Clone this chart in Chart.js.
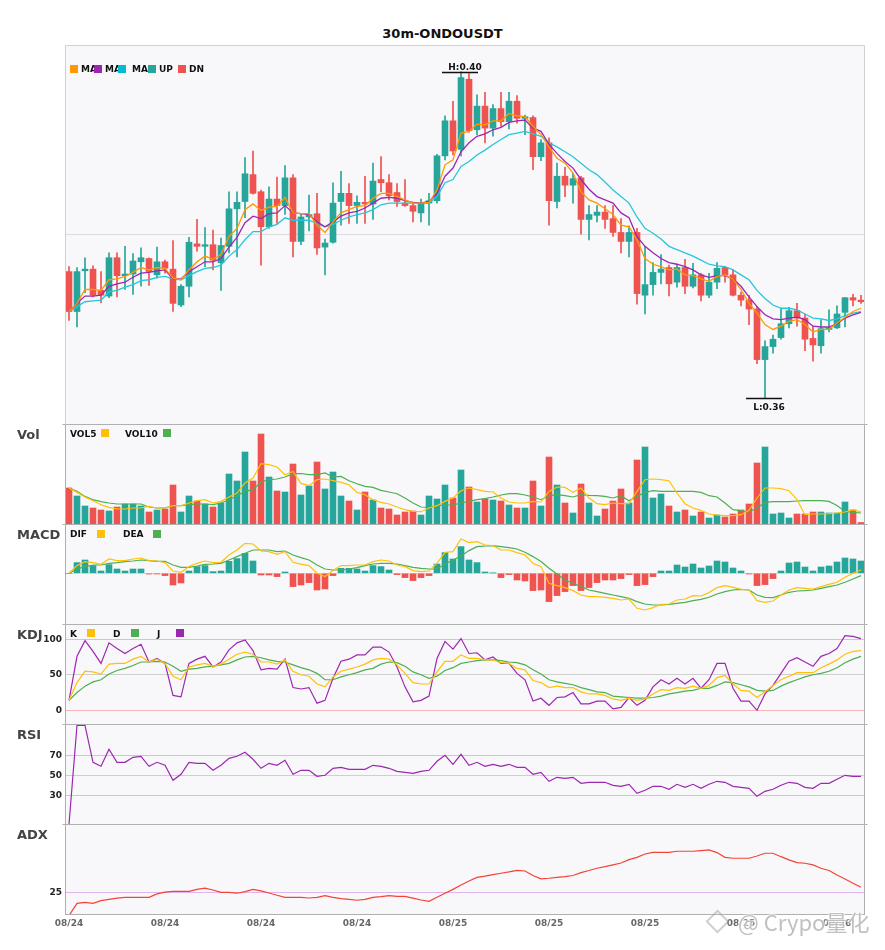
<!DOCTYPE html>
<html>
<head>
<meta charset="utf-8">
<title>30m-ONDOUSDT</title>
<script src="https://cdn.jsdelivr.net/npm/chart.js@4.4.1/dist/chart.umd.min.js"></script>
<style>
  body { margin: 0; background: #fff; font-family: "DejaVu Sans", sans-serif; }
  #wrap { position: relative; width: 885px; height: 950px; overflow: hidden; }
  #wrap canvas { position: absolute; left: 0; }
  .title { position: absolute; top: 27px; left: 0; width: 885px; text-align: center; font: bold 13px/14px "DejaVu Sans"; color: #111; }
  .pane { position: absolute; left: 17px; font: bold 13px/14px "DejaVu Sans"; color: #444; }
  .lg { position: absolute; font: bold 9px/10px "DejaVu Sans"; color: #111; white-space: nowrap; }
  .sq { position: absolute; width: 8px; height: 8px; }
  .wm { position: absolute; left: 738px; top: 908px; font: 22px/26px "Noto Sans CJK SC", sans-serif; color: rgba(150,150,150,0.6); white-space: nowrap;
        text-shadow: 0 0 2px #fff, 0 0 2px #fff, 0 0 3px #fff; }
  .logo { position: absolute; left: 709px; top: 913px; width: 13px; height: 13px; border: 2px solid rgba(160,160,160,0.5); transform: rotate(45deg);
          box-shadow: 0 0 2px #fff; }
</style>
</head>
<body>
<div id="wrap">
  <div class="title">30m-ONDOUSDT</div>

  <canvas id="cPrice" width="885" height="379" style="top:45px"></canvas>
  <canvas id="cVol" width="885" height="100" style="top:424px"></canvas>
  <canvas id="cMacd" width="885" height="100" style="top:524px"></canvas>
  <canvas id="cKdj" width="885" height="100" style="top:624px"></canvas>
  <canvas id="cRsi" width="885" height="100" style="top:724px"></canvas>
  <canvas id="cAdx" width="885" height="111" style="top:824px"></canvas>

  <div class="pane" style="top:428px">Vol</div>
  <div class="pane" style="top:528px">MACD</div>
  <div class="pane" style="top:628px">KDJ</div>
  <div class="pane" style="top:728px">RSI</div>
  <div class="pane" style="top:828px">ADX</div>

  <!-- price legend (labels overlap like the original) -->
  <div class="lg" style="left:81px;top:64px">MA</div>
  <div class="lg" style="left:105px;top:64px">MA</div>
  <div class="lg" style="left:132px;top:64px">MA</div>
  <div class="lg" style="left:159px;top:64px">UP</div>
  <div class="lg" style="left:189px;top:64px">DN</div>
  <div class="sq" style="left:70px;top:65px;background:#ff9800"></div>
  <div class="sq" style="left:94px;top:65px;background:#9c27b0"></div>
  <div class="sq" style="left:118px;top:65px;background:#00bcd4"></div>
  <div class="sq" style="left:148px;top:65px;background:#26a69a"></div>
  <div class="sq" style="left:178px;top:65px;background:#ef5350"></div>

  <div class="lg" style="left:70px;top:429px">VOL5</div>
  <div class="sq" style="left:101px;top:429px;background:#ffc107"></div>
  <div class="lg" style="left:125px;top:429px">VOL10</div>
  <div class="sq" style="left:163px;top:429px;background:#4caf50"></div>

  <div class="lg" style="left:70px;top:529px">DIF</div>
  <div class="sq" style="left:97px;top:530px;background:#ffc107"></div>
  <div class="lg" style="left:123px;top:529px">DEA</div>
  <div class="sq" style="left:153px;top:530px;background:#4caf50"></div>

  <div class="lg" style="left:70px;top:629px">K</div>
  <div class="sq" style="left:87px;top:629px;background:#ffc107"></div>
  <div class="lg" style="left:113px;top:629px">D</div>
  <div class="sq" style="left:131px;top:629px;background:#4caf50"></div>
  <div class="lg" style="left:157px;top:629px">J</div>
  <div class="sq" style="left:176px;top:629px;background:#9c27b0"></div>

  <div class="logo"></div>
  <div class="wm">@ Crypo量化</div>
</div>

<script>
// --- data ---
const xTickLabels = ['08/24', '08/24', '08/24', '08/24', '08/25', '08/25', '08/25', '08/25', '08/26'];
const TICK_STEP = 12;

const opens = [
  0.3755, 0.3706, 0.3756, 0.3758, 0.3732, 0.3725, 0.3772, 0.3750, 0.3752, 0.3767,
  0.3771, 0.3751, 0.3767, 0.3758, 0.3714, 0.3737, 0.3789, 0.3786, 0.3788, 0.3766,
  0.3786, 0.3832, 0.3841, 0.3874, 0.3853, 0.3810, 0.3844, 0.3836, 0.3870, 0.3792,
  0.3822, 0.3826, 0.3785, 0.3791, 0.3841, 0.3851, 0.3836, 0.3840, 0.3838, 0.3868,
  0.3864, 0.3852, 0.3839, 0.3836, 0.3827, 0.3839, 0.3842, 0.3897, 0.3940, 0.3905,
  0.3991, 0.3929, 0.3958, 0.3931, 0.3955, 0.3939, 0.3964, 0.3943, 0.3944, 0.3896,
  0.3913, 0.3841, 0.3872, 0.3861, 0.3870, 0.3819, 0.3824, 0.3828, 0.3820, 0.3803,
  0.3792, 0.3803, 0.3726, 0.3739, 0.3754, 0.3760, 0.3742, 0.3760, 0.3737, 0.3751,
  0.3726, 0.3742, 0.3760, 0.3751, 0.3726, 0.3720, 0.3709, 0.3647, 0.3663, 0.3674,
  0.3691, 0.3707, 0.3698, 0.3673, 0.3664, 0.3684, 0.3686, 0.3705, 0.3723, 0.3720
];
const highs = [
  0.3761, 0.3760, 0.3772, 0.3762, 0.3755, 0.3778, 0.3778, 0.3786, 0.3777, 0.3784,
  0.3772, 0.3785, 0.3769, 0.3793, 0.3739, 0.3797, 0.3819, 0.3809, 0.3806, 0.3796,
  0.3853, 0.3853, 0.3895, 0.3903, 0.3855, 0.3859, 0.3871, 0.3885, 0.3874, 0.3826,
  0.3849, 0.3851, 0.3795, 0.3864, 0.3878, 0.3863, 0.3848, 0.3872, 0.3888, 0.3896,
  0.3874, 0.3863, 0.3868, 0.3840, 0.3844, 0.3851, 0.3899, 0.3946, 0.3964, 0.4000,
  0.3998, 0.3972, 0.3975, 0.3960, 0.3975, 0.3975, 0.3971, 0.3947, 0.3946, 0.3917,
  0.3919, 0.3888, 0.3883, 0.3876, 0.3872, 0.3836, 0.3836, 0.3836, 0.3836, 0.3820,
  0.3811, 0.3808, 0.3786, 0.3766, 0.3776, 0.3763, 0.3764, 0.3770, 0.3765, 0.3753,
  0.3753, 0.3766, 0.3761, 0.3757, 0.3730, 0.3726, 0.3712, 0.3670, 0.3677, 0.3710,
  0.3711, 0.3716, 0.3703, 0.3688, 0.3696, 0.3708, 0.3713, 0.3723, 0.3727, 0.3726
];
const lows = [
  0.3695, 0.3687, 0.3729, 0.3724, 0.3717, 0.3723, 0.3724, 0.3733, 0.3727, 0.3737,
  0.3738, 0.3747, 0.3753, 0.3706, 0.3712, 0.3724, 0.3780, 0.3761, 0.3757, 0.3732,
  0.3778, 0.3773, 0.3821, 0.3850, 0.3763, 0.3808, 0.3814, 0.3825, 0.3773, 0.3788,
  0.3805, 0.3776, 0.3751, 0.3790, 0.3812, 0.3814, 0.3814, 0.3814, 0.3819, 0.3853,
  0.3843, 0.3835, 0.3835, 0.3816, 0.3816, 0.3812, 0.3839, 0.3892, 0.3898, 0.3897,
  0.3926, 0.3923, 0.3913, 0.3921, 0.3933, 0.3930, 0.3937, 0.3923, 0.3880, 0.3891,
  0.3812, 0.3833, 0.3847, 0.3839, 0.3801, 0.3794, 0.3816, 0.3808, 0.3798, 0.3778,
  0.3773, 0.3715, 0.3703, 0.3726, 0.3740, 0.3725, 0.3736, 0.3728, 0.3735, 0.3719,
  0.3723, 0.3734, 0.3742, 0.3725, 0.3713, 0.3690, 0.3642, 0.3600, 0.3655, 0.3672,
  0.3686, 0.3688, 0.3658, 0.3645, 0.3655, 0.3681, 0.3685, 0.3687, 0.3713, 0.3716
];
const closes = [
  0.3706, 0.3755, 0.3758, 0.3726, 0.3726, 0.3772, 0.3750, 0.3752, 0.3768, 0.3772,
  0.3755, 0.3767, 0.3759, 0.3716, 0.3737, 0.3791, 0.3786, 0.3788, 0.3769, 0.3787,
  0.3832, 0.3840, 0.3875, 0.3851, 0.3810, 0.3844, 0.3836, 0.3870, 0.3792, 0.3822,
  0.3825, 0.3784, 0.3790, 0.3839, 0.3851, 0.3836, 0.3840, 0.3838, 0.3866, 0.3864,
  0.3848, 0.3841, 0.3836, 0.3829, 0.3839, 0.3842, 0.3897, 0.3940, 0.3903, 0.3993,
  0.3928, 0.3958, 0.3931, 0.3955, 0.3939, 0.3964, 0.3943, 0.3945, 0.3896, 0.3913,
  0.3842, 0.3872, 0.3861, 0.3869, 0.3819, 0.3825, 0.3828, 0.3819, 0.3803, 0.3792,
  0.3803, 0.3728, 0.3739, 0.3754, 0.3758, 0.3740, 0.3760, 0.3737, 0.3751, 0.3726,
  0.3742, 0.3759, 0.3751, 0.3726, 0.3720, 0.3709, 0.3647, 0.3663, 0.3672, 0.3691,
  0.3707, 0.3698, 0.3672, 0.3665, 0.3685, 0.3686, 0.3703, 0.3723, 0.3720, 0.3718
];

const ma5 = [
  0.3706, 0.3716, 0.3733, 0.3733, 0.3732, 0.3745, 0.3746, 0.3749, 0.3754, 0.3760,
  0.3757, 0.3760, 0.3759, 0.3747, 0.3745, 0.3757, 0.3767, 0.3774, 0.3770, 0.3776,
  0.3798, 0.3808, 0.3831, 0.3838, 0.3830, 0.3834, 0.3835, 0.3846, 0.3827, 0.3826,
  0.3826, 0.3812, 0.3803, 0.3816, 0.3827, 0.3831, 0.3835, 0.3836, 0.3845, 0.3851,
  0.3851, 0.3847, 0.3843, 0.3839, 0.3839, 0.3840, 0.3855, 0.3886, 0.3892, 0.3925,
  0.3927, 0.3936, 0.3935, 0.3940, 0.3940, 0.3949, 0.3946, 0.3945, 0.3933, 0.3923,
  0.3908, 0.3894, 0.3888, 0.3876, 0.3853, 0.3843, 0.3839, 0.3832, 0.3825, 0.3812,
  0.3810, 0.3794, 0.3771, 0.3764, 0.3761, 0.3757, 0.3758, 0.3751, 0.3750, 0.3746,
  0.3743, 0.3749, 0.3751, 0.3746, 0.3733, 0.3716, 0.3704, 0.3690, 0.3684, 0.3688,
  0.3694, 0.3696, 0.3690, 0.3681, 0.3684, 0.3684, 0.3692, 0.3699, 0.3706, 0.3710
];
const ma10 = [
  0.3706, 0.3716, 0.3725, 0.3725, 0.3726, 0.3737, 0.3740, 0.3742, 0.3748, 0.3753,
  0.3754, 0.3756, 0.3757, 0.3746, 0.3746, 0.3755, 0.3761, 0.3767, 0.3767, 0.3771,
  0.3785, 0.3797, 0.3815, 0.3823, 0.3820, 0.3826, 0.3827, 0.3836, 0.3827, 0.3826,
  0.3825, 0.3816, 0.3810, 0.3816, 0.3823, 0.3827, 0.3829, 0.3833, 0.3839, 0.3845,
  0.3846, 0.3845, 0.3842, 0.3840, 0.3839, 0.3841, 0.3851, 0.3872, 0.3882, 0.3902,
  0.3913, 0.3921, 0.3924, 0.3929, 0.3932, 0.3938, 0.3940, 0.3941, 0.3931, 0.3927,
  0.3911, 0.3900, 0.3890, 0.3882, 0.3868, 0.3856, 0.3847, 0.3843, 0.3839, 0.3827,
  0.3821, 0.3798, 0.3786, 0.3778, 0.3771, 0.3766, 0.3764, 0.3761, 0.3757, 0.3751,
  0.3748, 0.3750, 0.3750, 0.3746, 0.3737, 0.3724, 0.3712, 0.3702, 0.3697, 0.3696,
  0.3698, 0.3699, 0.3696, 0.3688, 0.3687, 0.3687, 0.3691, 0.3698, 0.3702, 0.3705
];
const ma20 = [
  0.3706, 0.3712, 0.3718, 0.3719, 0.3720, 0.3730, 0.3732, 0.3736, 0.3739, 0.3744,
  0.3745, 0.3748, 0.3749, 0.3746, 0.3745, 0.3750, 0.3755, 0.3759, 0.3760, 0.3763,
  0.3774, 0.3782, 0.3794, 0.3804, 0.3804, 0.3810, 0.3813, 0.3821, 0.3818, 0.3818,
  0.3818, 0.3814, 0.3810, 0.3813, 0.3818, 0.3822, 0.3825, 0.3827, 0.3831, 0.3837,
  0.3839, 0.3839, 0.3839, 0.3839, 0.3839, 0.3839, 0.3847, 0.3864, 0.3868, 0.3884,
  0.3890, 0.3898, 0.3904, 0.3911, 0.3917, 0.3923, 0.3925, 0.3927, 0.3924, 0.3921,
  0.3913, 0.3908, 0.3902, 0.3896, 0.3888, 0.3880, 0.3874, 0.3865, 0.3855, 0.3847,
  0.3839, 0.3822, 0.3808, 0.3802, 0.3795, 0.3786, 0.3782, 0.3778, 0.3774, 0.3769,
  0.3764, 0.3762, 0.3761, 0.3757, 0.3751, 0.3745, 0.3732, 0.3722, 0.3714, 0.3710,
  0.3710, 0.3708, 0.3703, 0.3698, 0.3697, 0.3695, 0.3697, 0.3701, 0.3704, 0.3706
];

const volumes = [
  36, 28, 18, 16, 14, 13, 17, 20, 20, 18,
  12, 14, 15, 39, 12, 28, 23, 20, 17, 21,
  50, 43, 72, 43, 90, 47, 33, 32, 60, 29,
  38, 62, 35, 52, 28, 23, 14, 32, 24, 16,
  15, 9, 12, 13, 9, 28, 25, 39, 26, 54,
  37, 22, 25, 24, 23, 19, 16, 16, 43, 18,
  67, 39, 21, 11, 40, 21, 8, 15, 23, 35,
  21, 64, 77, 26, 30, 18, 12, 14, 8, 12,
  6, 9, 7, 10, 14, 20, 61, 77, 10, 11,
  6, 10, 10, 12, 12, 11, 11, 22, 14, 1.5
];
const vol5 = [
  36, 31.6, 27, 23.3, 19.3, 16.6, 15, 15, 16, 16,
  17.6, 16, 16, 18.3, 18.3, 21, 23.3, 24.3, 21, 22.6,
  27, 31, 41, 46, 60.3, 59.3, 57, 49.3, 52.6, 40.6,
  38.3, 44.3, 45, 43.3, 41.6, 39.3, 31.6, 29.3, 24.3, 21.6,
  20, 17, 14.3, 12.6, 12.3, 16, 18.3, 22.6, 26, 33.3,
  36, 34.3, 32.6, 32, 26, 22, 21, 21, 22.6, 22,
  32.6, 37, 36.6, 31.6, 36, 26, 20.3, 19.3, 21, 20.3,
  20.3, 32.6, 44.3, 45, 44.3, 43.3, 31, 20.3, 16, 13.6,
  10, 9, 8.3, 8.3, 9.3, 13.6, 26, 36, 36, 35.3,
  33.3, 24.3, 9.3, 10, 10, 10.3, 11, 12, 14.3, 12
];
const vol10 = [
  36, 32.6, 27.6, 24.3, 22.3, 21, 20, 20, 20, 20,
  17, 16, 16, 18.3, 18.3, 19.3, 20, 20, 19.3, 21,
  24.3, 28.3, 32.6, 34.3, 42, 44.3, 45, 47, 50.3, 50.5,
  49.3, 49.3, 51, 47, 47.6, 43.3, 40.3, 37.6, 36.6, 33.6,
  32, 30.3, 26, 21, 17, 16.6, 18.3, 19, 19, 21,
  22.6, 24.3, 25.3, 27, 29, 30.3, 30.3, 29, 27, 24.3,
  28.3, 29.3, 28.3, 27, 29.3, 28.6, 28.3, 27.6, 26, 28.3,
  23.3, 27.6, 31.6, 33.3, 32.6, 32.6, 32.6, 32.6, 32.6, 31.6,
  28.3, 27, 21, 14.3, 13.3, 12, 16, 21.6, 22.3, 22.3,
  22.3, 23, 23.3, 23.3, 23.3, 22.6, 18.6, 12.6, 11.6, 11
];

const macdHist = [
  0, 10.7, 13.3, 7.7, 2.3, 8.7, 4.3, 2.3, 4.3, 4.3,
  -0.7, -0.7, -2.3, -11.7, -9.7, 2.3, 6.7, 7.7, 1.7, 2.3,
  12, 14.7, 20, 12.3, -1.7, -1.7, -3.3, 1.3, -13.3, -11.7,
  -9.3, -16.7, -15.7, -2.3, 5, 5, 4.3, 2.3, 7.7, 6.7,
  3.3, -1.3, -4.3, -7.3, -4.3, -2.3, 9.3, 20.7, 14.3, 26.7,
  13.3, 10.7, 1.3, 0.3, -4.3, -1.3, -6.7, -7.7, -17.3, -16.7,
  -28.3, -22.3, -18.3, -12.3, -17.3, -14.3, -9.3, -6.7, -6.7, -5.3,
  -1.3, -12.3, -11.3, -3.3, 2.3, 2.3, 8.3, 6.3, 9.3, 5.3,
  7.3, 12.3, 11.3, 5.3, 2.3, -0.7, -12.3, -11.3, -5.3, 2.3,
  10.3, 11.3, 6.3, 2.3, 6.3, 7.3, 11.3, 15.3, 14.3, 12.3
];
const dif = [
  0, 7.7, 11.7, 10.7, 9, 14.3, 12.7, 12.7, 14.3, 15.3,
  12.7, 12.3, 10.7, 2.3, 1, 6.7, 10, 12.3, 10.7, 11,
  18.3, 23.3, 30, 29.3, 22.3, 21.7, 19, 21.7, 11, 9.2,
  7.7, 0, -3.3, 2.7, 7.7, 7.7, 8.3, 8.3, 11.7, 13.3,
  12.3, 8.3, 6.7, 2.7, 1.7, 2.3, 10, 21, 21.7, 34.3,
  30.7, 31.7, 28.3, 27.7, 23.3, 23.3, 20.7, 18.3, 10, 6.7,
  -10, -12.3, -14.3, -17.3, -21.7, -23.3, -23.3, -24, -25, -26.7,
  -25.7, -35, -36.7, -34.3, -31, -30.7, -26.7, -25.7, -22.3, -22.7,
  -19.3, -14.3, -12.3, -14, -16, -16.7, -27.3, -29, -27.7, -21.7,
  -16.7, -14.3, -15, -15.7, -13.3, -11, -9, -4, 0, 3.3
];
const dea = [
  0, 4.3, 6.7, 8.3, 8.3, 10, 10.7, 11.7, 12.3, 13.3,
  12.7, 12, 12, 8.3, 6, 6, 7.3, 9, 9.3, 10,
  13.3, 16.7, 20, 23.3, 23.3, 23.3, 21.7, 22.3, 18.3, 15.7,
  13.3, 8.3, 4.3, 3.3, 3.3, 4.3, 5.7, 7.7, 9.3, 10,
  10, 9.3, 7.7, 6, 5, 4.3, 4.3, 9.3, 13.3, 17.3,
  22.7, 26.7, 27.3, 27.7, 26.7, 25.7, 24.3, 21, 16.7, 11.7,
  5, -0.7, -6.7, -10, -13.3, -16.7, -18.3, -20, -21.7, -23.3,
  -25, -28.3, -30.7, -31.7, -31.7, -31, -30, -29, -27.3, -26,
  -24, -20.7, -18.3, -16.7, -16, -16.7, -21.7, -24, -24.3, -21.7,
  -19, -17.7, -17.3, -16.7, -15, -13.3, -11.7, -9, -5.7, -2.3
];

const kLine = [
  14, 39, 55, 54, 51, 65, 66, 66, 72, 76,
  68, 72, 66, 48, 43, 61, 64, 66, 62, 65,
  72, 79, 82, 79, 68, 68, 65, 71, 55, 50,
  48, 37, 33, 47, 55, 58, 61, 65, 71, 73,
  72, 64, 52, 39, 37, 37, 54, 69, 69, 78,
  73, 73, 71, 71, 67, 66, 59, 57, 42, 39,
  32, 34, 32, 32, 26, 23, 23, 21, 16, 14,
  17, 14, 16, 23, 29, 28, 32, 31, 34, 31,
  35, 46, 49, 37, 28, 27, 18, 26, 35, 43,
  48, 53, 53, 53, 60, 65, 71, 79, 83, 84
];
const dLine = [
  14, 25, 34, 40, 43, 51, 56, 59, 63, 68,
  68, 69, 68, 62, 55, 58, 59, 61, 62, 64,
  66, 71, 75, 76, 74, 71, 69, 68, 64, 60,
  57, 52, 43, 43, 47, 50, 53, 57, 59, 65,
  68, 67, 62, 54, 50, 45, 48, 56, 60, 66,
  68, 70, 71, 71, 70, 68, 67, 64, 57, 51,
  43, 40, 38, 36, 32, 29, 26, 25, 20, 19,
  18, 17, 17, 18, 20, 23, 25, 27, 28, 31,
  31, 35, 40, 39, 36, 33, 28, 27, 28, 34,
  39, 43, 47, 50, 52, 55, 60, 67, 72, 76
];
const jLine = [
  14, 76, 98, 83, 66, 95, 87, 80, 87, 93,
  68, 73, 66, 21, 19, 66, 72, 76, 61, 68,
  85, 95, 99, 84, 57, 59, 58, 72, 32, 30,
  32, 10, 14, 45, 69, 72, 78, 78, 89, 89,
  82, 61, 33, 12, 14, 20, 73, 97, 86, 101,
  80, 81, 71, 75, 66, 66, 52, 43, 13, 17,
  7, 18, 19, 25, 9, 9, 13, 13, 2, 4,
  18, 7, 14, 33, 43, 37, 45, 37, 45, 31,
  43, 66, 66, 31, 13, 13, 0, 23, 35, 52,
  69, 74, 68, 62, 76, 80, 87, 105, 104, 101
];

const rsi = [
  1, 100, 100, 63, 59, 76, 63, 63, 68, 69,
  59, 63, 60, 45, 51, 63, 62, 62, 55, 60,
  67, 69, 73, 66, 57, 62, 60, 65, 51, 55,
  55, 49, 50, 57, 58, 56, 56, 56, 60, 59,
  57, 54, 53, 52, 54, 55, 64, 70, 61, 71,
  60, 63, 59, 61, 59, 61, 58, 58, 51, 53,
  44, 48, 47, 48, 42, 43, 43, 43, 40, 39,
  41, 32, 35, 39, 39, 36, 41, 38, 41, 37,
  41, 44, 43, 39, 38, 37, 29, 34, 36, 40,
  43, 42, 38, 37, 42, 42, 46, 50, 49, 49
];

const adx = [
  14.7, 20.1, 20.6, 20.1, 21.3, 21.9, 22.4, 22.8, 22.8, 22.8,
  22.8, 24.3, 25.1, 25.4, 25.4, 25.4, 26.3, 26.8, 26, 25,
  25, 24.6, 25.3, 26.3, 25.6, 24.7, 23.7, 22.8, 22.8, 22.8,
  22.5, 22.8, 23.5, 22.8, 22.2, 21.9, 21.5, 21.9, 22.8, 23.1,
  23.5, 23.2, 23.2, 22.4, 21.6, 21, 22.8, 24.6, 26.3, 28.2,
  30, 31.6, 32.1, 32.8, 33.4, 34, 34.7, 34.4, 32.4, 30.9,
  31.2, 31.6, 31.9, 32.4, 33.7, 34.6, 35.6, 36.3, 37.1, 37.9,
  39.4, 40.4, 41.9, 42.6, 42.6, 42.6, 43.1, 43.1, 43.1, 43.4,
  43.7, 42.5, 40.4, 40, 40, 40, 41, 42.2, 42.2, 40.7,
  39.3, 38.1, 37.8, 37.1, 35.6, 34.6, 32.6, 30.9, 29, 27.2
];

// --- styling ---
const UP = '#26a69a';
const DN = '#ef5350';
const TEAL_LINE = '#a6d9d4';
const GRAY_LINE = '#cfcfcf';
const PINK_LINE = '#f6b6b6';

Chart.defaults.font.family = '"DejaVu Sans", sans-serif';

const candleIdx = opens.map((o, i) => i);
const candleColors = closes.map((c, i) => c >= opens[i] ? UP : DN);

// plot background + panel frame
const framePlugin = {
    id: 'frame',
    beforeDraw(chart, args, opts) {
        const { ctx, chartArea: a } = chart;
        ctx.save();
        ctx.fillStyle = '#f8f8fa';
        ctx.fillRect(a.left, a.top, a.right - a.left, a.bottom - a.top);
        ctx.restore();
    },
    afterDraw(chart, args, opts) {
        const { ctx, chartArea: a } = chart;
        const l = Math.round(a.left) + 0.5, r = Math.round(a.right) - 0.5;
        const t = Math.round(a.top) + 0.5, b = Math.round(a.bottom) - 0.5;
        ctx.save();
        ctx.strokeStyle = opts.color || '#b0b0b0';
        ctx.lineWidth = 1;
        ctx.beginPath();
        ctx.moveTo(l, b + 0.5); ctx.lineTo(l, t); ctx.lineTo(r, t); ctx.lineTo(r, b + 0.5);
        if (opts.bottom) { ctx.moveTo(l, b); ctx.lineTo(r, b); }
        if (opts.marks) {
            ctx.moveTo(l - 3, t); ctx.lineTo(l, t);
            ctx.moveTo(r, t); ctx.lineTo(r + 3, t);
        }
        ctx.stroke();
        ctx.restore();
    }
};

// H / L markers on the price pane
const hiLoPlugin = {
    id: 'hiLo',
    afterDatasetsDraw(chart) {
        const { ctx, scales: { x, y } } = chart;
        const hi = Math.max(...highs), lo = Math.min(...lows);
        const hx = x.getPixelForValue(highs.indexOf(hi));
        const lx = x.getPixelForValue(lows.indexOf(lo));
        const hy = Math.round(y.getPixelForValue(hi)) + 0.5;
        const ly = Math.round(y.getPixelForValue(lo)) + 0.5;
        ctx.save();
        ctx.strokeStyle = '#111';
        ctx.lineWidth = 1.3;
        ctx.beginPath();
        ctx.moveTo(hx - 19, hy); ctx.lineTo(hx + 17, hy);
        ctx.moveTo(lx - 19, ly); ctx.lineTo(lx + 17, ly);
        ctx.stroke();
        ctx.fillStyle = '#111';
        ctx.font = 'bold 9px "DejaVu Sans"';
        ctx.textAlign = 'center';
        ctx.fillText('H:' + hi.toFixed(2), hx + 4, hy - 3);
        ctx.fillText('L:' + lo.toFixed(2), lx + 4, ly + 11);
        ctx.restore();
    }
};

function lineDs(data, color, width) {
    return { type: 'line', data, borderColor: color, borderWidth: width || 1.2, pointRadius: 0, tension: 0, fill: false, order: 1 };
}

// marks: [[value, gridColor], ...]
function yAxis(min, max, marks, showLabels) {
    return {
        min, max,
        afterFit: s => {
            s.width = 65;
            // keep the plot filling the pane even when labels sit on its edge
            s.paddingTop = 0;
            s.paddingBottom = 0;
        },
        afterBuildTicks: s => { s.ticks = marks.map(m => ({ value: m[0] })); },
        grid: { display: marks.length > 0, drawTicks: false, color: c => (marks[c.index] || [])[1] || 'transparent' },
        border: { display: false },
        ticks: { display: !!showLabels, padding: 3, color: '#222', font: { size: 9, weight: 'bold' } }
    };
}

function xAxis(show) {
    if (!show) return { type: 'category', offset: true, display: false };
    return {
        type: 'category', offset: true,
        grid: { display: false, drawTicks: false },
        border: { display: false },
        afterFit: s => {
            s.height = 20;
            s.paddingLeft = 0;
            s.paddingRight = 0;
        },
        ticks: {
            autoSkip: false, maxRotation: 0, minRotation: 0, padding: 3,
            color: '#666', font: { size: 9, weight: 'bold' },
            callback: (v, i) => i % TICK_STEP === 0 ? xTickLabels[i / TICK_STEP] : null
        }
    };
}

function paneOptions(y, showX, frame) {
    return {
        responsive: false,
        animation: false,
        events: [],
        layout: { padding: { left: 0, right: 20, top: 0, bottom: 0 } },
        scales: { x: xAxis(showX), y },
        plugins: { legend: { display: false }, tooltip: { enabled: false }, frame }
    };
}

// --- price ---
new Chart(document.getElementById('cPrice'), {
    type: 'bar',
    data: {
        labels: candleIdx,
        datasets: [
            lineDs(ma5, '#ff9800', 1.3),
            lineDs(ma10, '#9c27b0', 1.3),
            lineDs(ma20, '#26c6da', 1.3),
            { type: 'bar', data: opens.map((o, i) => [o, closes[i]]), backgroundColor: candleColors,
              barThickness: 6, minBarLength: 1, grouped: false, order: 2 },
            { type: 'bar', data: lows.map((l, i) => [l, highs[i]]), backgroundColor: candleColors,
              barThickness: 1, grouped: false, order: 3 }
        ]
    },
    options: paneOptions(yAxis(0.3568, 0.4033, [[0.38, '#dcdcdc']]), false, { color: '#cfcfd6' }),
    plugins: [framePlugin, hiLoPlugin]
});

// --- volume ---
new Chart(document.getElementById('cVol'), {
    type: 'bar',
    data: {
        labels: candleIdx,
        datasets: [
            lineDs(vol5, '#ffc107'),
            lineDs(vol10, '#4caf50'),
            { type: 'bar', data: volumes, backgroundColor: candleColors, barThickness: 6, order: 2 }
        ]
    },
    options: paneOptions(yAxis(0, 100, []), false, { color: '#b0b0b0', marks: true }),
    plugins: [framePlugin]
});

// --- MACD ---
new Chart(document.getElementById('cMacd'), {
    type: 'bar',
    data: {
        labels: candleIdx,
        datasets: [
            lineDs(dif, '#ffc107'),
            lineDs(dea, '#4caf50'),
            { type: 'bar', data: macdHist, backgroundColor: macdHist.map(v => v >= 0 ? UP : DN), barThickness: 6, order: 2 }
        ]
    },
    options: paneOptions(yAxis(-50.7, 49.3, [[0, '#dedede']]), false, { color: '#b0b0b0', marks: true }),
    plugins: [framePlugin]
});

// --- KDJ ---
new Chart(document.getElementById('cKdj'), {
    type: 'line',
    data: {
        labels: candleIdx,
        datasets: [lineDs(kLine, '#ffc107'), lineDs(dLine, '#4caf50'), lineDs(jLine, '#9c27b0')]
    },
    options: paneOptions(yAxis(-19.3, 121.5, [[0, PINK_LINE], [50, GRAY_LINE], [100, TEAL_LINE]], true), false,
        { color: '#b0b0b0', marks: true }),
    plugins: [framePlugin]
});

// --- RSI ---
new Chart(document.getElementById('cRsi'), {
    type: 'line',
    data: { labels: candleIdx, datasets: [lineDs(rsi, '#9c27b0')] },
    options: paneOptions(yAxis(1.3, 101.3, [[30, PINK_LINE], [50, GRAY_LINE], [70, TEAL_LINE]], true), false,
        { color: '#b0b0b0', marks: true }),
    plugins: [framePlugin]
});

// --- ADX ---
new Chart(document.getElementById('cAdx'), {
    type: 'line',
    data: { labels: candleIdx, datasets: [lineDs(adx, '#f44336')] },
    options: paneOptions(yAxis(15, 55.1, [[25, '#e2b4ee']], true), true,
        { color: '#b0b0b0', marks: true, bottom: true }),
    plugins: [framePlugin]
});
</script>
</body>
</html>
